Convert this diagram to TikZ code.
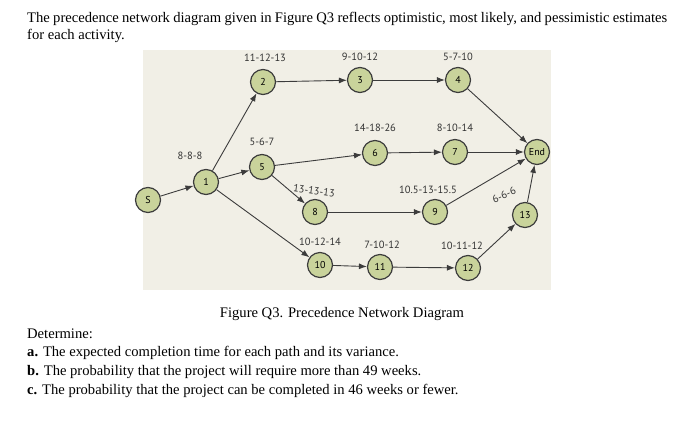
\documentclass[tikz,border=0pt]{standalone}
\usepackage{fontspec}
\setmainfont{Liberation Serif}
\newfontfamily\lab{PT Sans}
\usetikzlibrary{arrows.meta}
\definecolor{bgc}{HTML}{F1EFE6}
\definecolor{nodef}{HTML}{C9D39B}
\definecolor{edge}{HTML}{3C3C3C}
\begin{document}
\begin{tikzpicture}[x=1pt,y=-1pt,
  nd/.style={circle,draw=edge,line width=1.2pt,fill=nodef,minimum size=25pt,inner sep=0pt,font=\lab\fontsize{10}{11}\selectfont},
  ed/.style={draw=edge,line width=0.9pt,-{Latex[length=8pt,width=6pt]}},
  lb/.style={font=\lab\fontsize{10.5}{12}\selectfont,text=black!80}]
\useasboundingbox (0,0) rectangle (700,441);
\fill[white] (0,0) rectangle (700,441);
\fill[bgc] (143,50) rectangle (551,290);
\node[anchor=north west,text width=640pt,align=justify,inner sep=0pt,font=\fontsize{14.6}{17}\selectfont] (t) at (27,12)
{\hyphenpenalty=10000 The precedence network diagram given in Figure Q3 reflects optimistic, most likely, and pessimistic estimates for each activity.};
\node[nd] (S) at (148,200) {S};
\node[nd] (n1) at (206,182) {1};
\node[nd] (n2) at (263,82) {2};
\node[nd] (n3) at (360,80) {3};
\node[nd] (n4) at (458,80) {4};
\node[nd] (n5) at (262,167) {5};
\node[nd] (n6) at (375,153) {6};
\node[nd] (n7) at (455,152) {7};
\node[nd] (E) at (537,152) {End};
\node[nd] (n8) at (315,212) {8};
\node[nd] (n9) at (435,212) {9};
\node[nd] (n13) at (525,215) {13};
\node[nd] (n10) at (320,265) {10};
\node[nd] (n11) at (380,267) {11};
\node[nd] (n12) at (468,268) {12};
\foreach \a/\b in {S/n1,n1/n2,n2/n3,n3/n4,n4/E,n1/n5,n5/n6,n6/n7,n7/E,n5/n8,n8/n9,n9/E,n1/n10,n10/n11,n11/n12,n12/n13,n13/E}
  \draw[ed] (\a) -- (\b);
\node[lb] (l2) at (265,58) {11-12-13};
\node[lb] (l3) at (360,57) {9-10-12};
\node[lb] (l4) at (458,57) {5-7-10};
\node[lb] (l1) at (190,156) {8-8-8};
\node[lb] (l5) at (262,142) {5-6-7};
\node[lb] (l6) at (375,128) {14-18-26};
\node[lb] (l7) at (455,128) {8-10-14};
\node[lb,rotate=-8] (l8) at (314,191) {13-13-13};
\node[lb] (l9) at (428,190) {10.5-13-15.5};
\node[lb,rotate=25] (l13) at (504,195) {6-6-6};
\node[lb] (l10) at (320,242) {10-12-14};
\node[lb] (l11) at (382,245) {7-10-12};
\node[lb] (l12) at (462,246) {10-11-12};
\node[font=\fontsize{14.6}{17}\selectfont] (cap) at (342,314) {Figure Q3. Precedence Network Diagram};
\node[anchor=west,inner sep=0pt,font=\fontsize{14.6}{17}\selectfont] (d) at (27,334) {Determine:};
\node[anchor=west,inner sep=0pt,font=\fontsize{14.6}{17}\selectfont] (a) at (27,353) {\textbf{a.} The expected completion time for each path and its variance.};
\node[anchor=west,inner sep=0pt,font=\fontsize{14.6}{17}\selectfont] (b) at (27,372) {\textbf{b.} The probability that the project will require more than 49 weeks.};
\node[anchor=west,inner sep=0pt,font=\fontsize{14.6}{17}\selectfont] (c) at (27,391) {\textbf{c.} The probability that the project can be completed in 46 weeks or fewer.};
\end{tikzpicture}
\end{document}
